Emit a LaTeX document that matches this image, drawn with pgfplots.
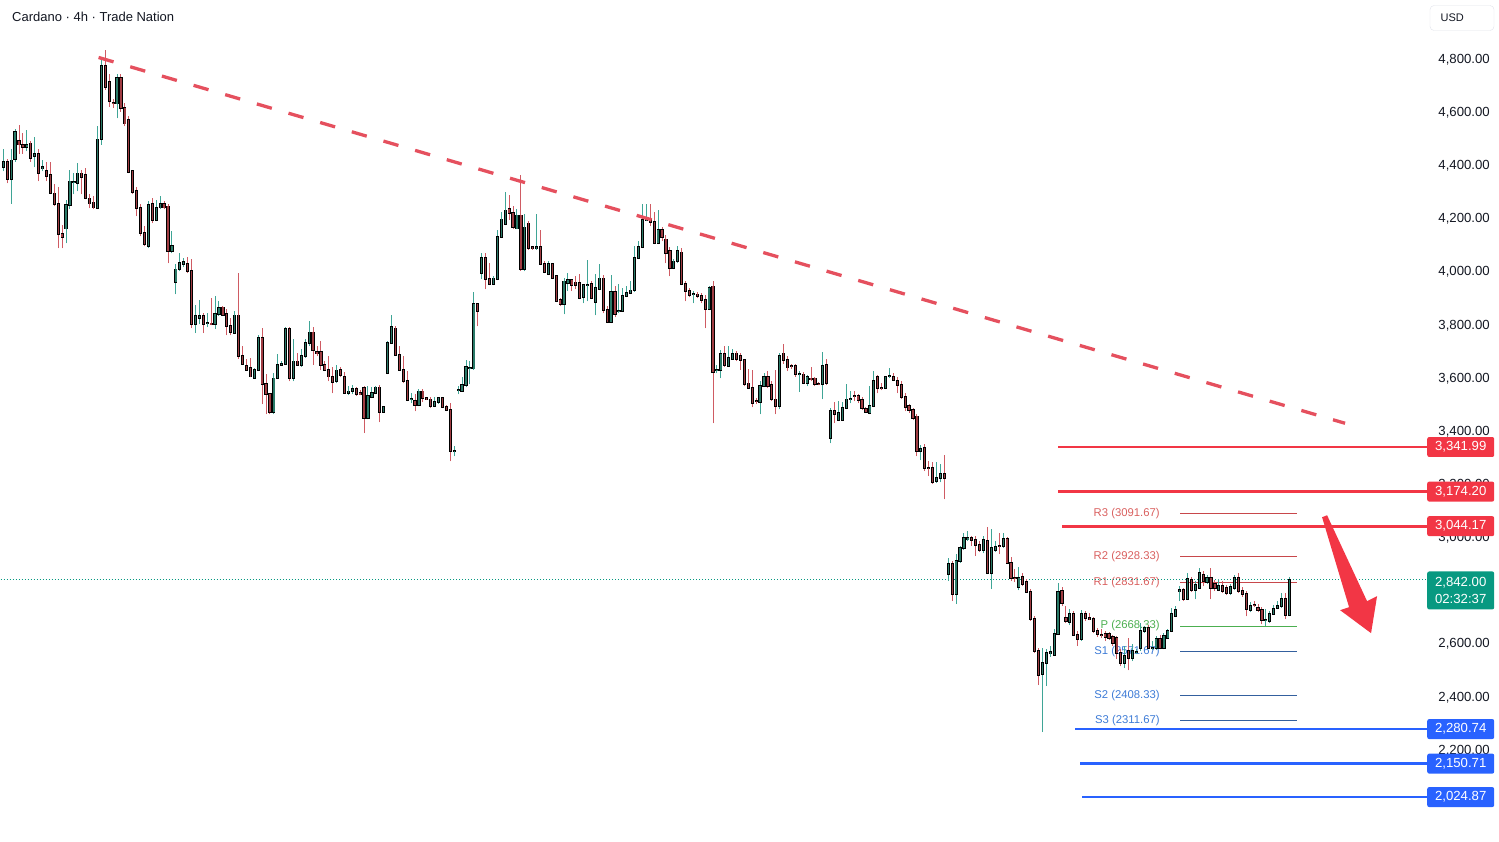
\documentclass[border=0pt]{standalone}
\usepackage{fontspec}
\setmainfont{Liberation Sans}
\usepackage{pgfplots}
\usepackage{pgfplotstable}
\pgfplotsset{compat=1.18}
\definecolor{tvText}{HTML}{131722}
\definecolor{bullBody}{HTML}{2A7A68}
\definecolor{bearBody}{HTML}{A03C42}
\definecolor{bullWick}{HTML}{3FA596}
\definecolor{bearWick}{HTML}{CF5B63}
\definecolor{lvlRed}{HTML}{F23645}
\definecolor{lvlBlue}{HTML}{2962FF}
\definecolor{trend}{HTML}{E5505E}
\definecolor{pivR}{HTML}{D9605F}
\definecolor{pivRl}{HTML}{C8474B}
\definecolor{pivP}{HTML}{4CAF50}
\definecolor{pivS}{HTML}{3D7BD6}
\definecolor{pivSl}{HTML}{34609E}
\definecolor{lastPx}{HTML}{089981}
\definecolor{usdEdge}{HTML}{E0E3EB}

% 4h candles: index, open, high, low, close
\pgfplotstableread{
i o h l c
0 4394 4465 4379 4413
1 4413 4424 4334 4349
2 4349 4465 4258 4420
3 4424 4537 4416 4529
4 4492 4552 4446 4480
5 4480 4522 4446 4469
6 4469 4533 4454 4480
7 4484 4492 4416 4428
8 4435 4510 4394 4446
9 4443 4465 4341 4371
10 4390 4420 4379 4394
11 4379 4416 4341 4360
12 4364 4413 4292 4296
13 4296 4330 4247 4255
14 4255 4319 4089 4142
15 4142 4176 4089 4131
16 4164 4270 4108 4251
17 4251 4383 4236 4341
18 4337 4371 4292 4338
19 4334 4409 4304 4371
20 4371 4383 4292 4356
21 4364 4390 4274 4277
22 4277 4292 4240 4258
23 4262 4285 4236 4243
24 4240 4548 4236 4499
25 4499 4800 4480 4777
26 4777 4834 4687 4695
27 4717 4747 4623 4642
28 4638 4653 4619 4634
29 4634 4744 4578 4729
30 4729 4744 4604 4616
31 4619 4638 4548 4559
32 4571 4586 4371 4375
33 4379 4386 4292 4300
34 4304 4319 4210 4240
35 4240 4255 4134 4146
36 4149 4172 4097 4104
37 4097 4266 4089 4251
38 4258 4277 4183 4195
39 4195 4270 4191 4243
40 4243 4285 4236 4258
41 4258 4266 4236 4243
42 4247 4255 4033 4078
43 4078 4153 4070 4097
44 3961 4029 3916 4010
45 4010 4070 4003 4033
46 4029 4052 4018 4037
47 4029 4055 3995 4003
48 4003 4048 3788 3803
49 3803 3875 3770 3834
50 3826 3894 3803 3834
51 3834 3845 3770 3803
52 3807 3845 3792 3808
53 3807 3901 3800 3806
54 3803 3909 3785 3841
55 3841 3890 3834 3864
56 3867 3871 3834 3837
57 3841 3860 3762 3796
58 3796 3826 3762 3773
59 3770 3852 3766 3837
60 3837 3995 3674 3685
61 3685 3722 3651 3655
62 3648 3674 3633 3633
63 3640 3677 3604 3607
64 3600 3640 3597 3633
65 3633 3762 3629 3751
66 3751 3788 3503 3578
67 3578 3615 3465 3540
68 3540 3544 3465 3473
69 3473 3619 3465 3600
70 3600 3691 3597 3651
71 3651 3664 3648 3655
72 3655 3792 3651 3785
73 3785 3792 3589 3600
74 3600 3747 3589 3664
75 3664 3694 3648 3651
76 3651 3709 3644 3685
77 3685 3747 3677 3732
78 3732 3815 3721 3773
79 3773 3792 3651 3706
80 3698 3721 3683 3694
81 3698 3740 3630 3651
82 3651 3664 3627 3633
83 3633 3683 3589 3607
84 3607 3644 3544 3585
85 3589 3651 3581 3630
86 3633 3644 3604 3611
87 3607 3623 3544 3544
88 3544 3570 3536 3551
89 3551 3574 3540 3559
90 3559 3566 3533 3540
91 3544 3555 3536 3540
92 3563 3570 3394 3450
93 3450 3570 3446 3533
94 3529 3566 3525 3544
95 3544 3570 3540 3566
96 3566 3574 3435 3473
97 3473 3495 3469 3491
98 3619 3740 3615 3732
99 3732 3837 3729 3792
100 3788 3796 3685 3689
101 3689 3721 3630 3633
102 3633 3683 3581 3589
103 3589 3627 3514 3518
104 3521 3544 3506 3522
105 3514 3540 3476 3499
106 3499 3559 3495 3551
107 3551 3559 3510 3525
108 3525 3529 3518 3521
109 3521 3529 3487 3495
110 3495 3529 3491 3510
111 3510 3529 3503 3525
112 3525 3529 3487 3491
113 3491 3499 3476 3480
114 3480 3506 3288 3326
115 3326 3344 3307 3327
116 3555 3570 3540 3556
117 3551 3604 3548 3574
118 3574 3668 3566 3644
119 3637 3664 3578 3641
120 3637 3927 3633 3879
121 3879 3882 3796 3852
122 3995 4070 3973 4052
123 4052 4070 3935 3973
124 3973 4033 3950 3954
125 3954 3984 3950 3976
126 3973 4157 3969 4131
127 4131 4228 4127 4198
128 4180 4300 4176 4232
129 4236 4289 4195 4221
130 4221 4247 4161 4168
131 4164 4236 4161 4213
132 4213 4364 4006 4010
133 4010 4217 4003 4168
134 4183 4191 4085 4089
135 4093 4100 4085 4092
136 4092 4217 4085 4093
137 4093 4157 4025 4029
138 4029 4040 3995 3999
139 3991 4040 3988 4029
140 4029 4033 3973 3976
141 3984 3988 3886 3890
142 3894 3901 3871 3879
143 3879 3976 3841 3965
144 3958 3995 3928 3969
145 3969 3973 3928 3950
146 3961 3984 3935 3950
147 3958 3991 3897 3901
148 3905 3954 3882 3950
149 3950 4044 3890 3951
150 3954 3965 3897 3901
151 3886 3991 3837 3939
152 3935 4029 3931 3976
153 3976 3988 3845 3856
154 3856 3871 3807 3811
155 3811 3988 3807 3924
156 3924 3946 3830 3841
157 3852 3954 3845 3853
158 3852 3939 3849 3909
159 3909 3946 3905 3920
160 3920 3965 3916 3931
161 3931 4097 3927 4052
162 4052 4116 4048 4093
163 4093 4255 4089 4195
164 4195 4255 4191 4198
165 4202 4258 4172 4187
166 4187 4228 4104 4108
167 4108 4232 4104 4157
168 4157 4168 4116 4131
169 4123 4138 4033 4070
170 4078 4093 3984 4014
171 4014 4048 4010 4040
172 4040 4097 4033 4078
173 4074 4089 3950 3954
174 3954 3965 3890 3928
175 3928 3939 3905 3912
176 3916 3928 3882 3917
177 3916 3924 3901 3909
178 3909 3920 3882 3894
179 3894 3912 3788 3860
180 3860 3946 3856 3939
181 3946 3965 3431 3623
182 3630 3649 3619 3633
183 3630 3706 3600 3691
184 3691 3721 3644 3651
185 3648 3721 3644 3677
186 3674 3709 3670 3691
187 3694 3702 3664 3674
188 3683 3694 3633 3668
189 3668 3674 3570 3578
190 3581 3637 3559 3563
191 3563 3633 3491 3506
192 3514 3525 3503 3513
193 3510 3589 3465 3570
194 3570 3619 3566 3607
195 3604 3627 3563 3570
196 3574 3589 3514 3521
197 3521 3630 3465 3495
198 3495 3694 3484 3683
199 3694 3728 3655 3668
200 3668 3683 3627 3641
201 3648 3655 3637 3647
202 3648 3655 3607 3615
203 3615 3627 3548 3616
204 3615 3623 3578 3581
205 3581 3611 3570 3604
206 3600 3644 3589 3596
207 3600 3607 3570 3578
208 3578 3585 3574 3577
209 3578 3698 3521 3648
210 3651 3674 3574 3581
211 3375 3488 3356 3476
212 3476 3510 3431 3465
213 3442 3514 3439 3469
214 3442 3510 3439 3488
215 3488 3578 3484 3521
216 3521 3551 3506 3522
217 3533 3551 3514 3532
218 3533 3540 3506 3518
219 3518 3529 3480 3488
220 3484 3491 3469 3473
221 3469 3570 3465 3495
222 3495 3627 3491 3589
223 3604 3611 3544 3563
224 3563 3581 3555 3562
225 3563 3607 3559 3604
226 3607 3641 3600 3608
227 3607 3619 3589 3593
228 3589 3604 3544 3574
229 3574 3589 3521 3529
230 3529 3544 3476 3491
231 3495 3503 3469 3480
232 3480 3488 3442 3450
233 3457 3465 3307 3326
234 3326 3348 3292 3333
235 3340 3352 3251 3262
236 3262 3288 3232 3261
237 3262 3284 3202 3209
238 3213 3284 3206 3224
239 3224 3277 3209 3239
240 3239 3311 3145 3224
241 2863 2924 2837 2901
242 2901 2912 2762 2788
243 2788 2939 2751 2912
244 2912 2969 2905 2961
245 2961 3018 2954 2999
246 2995 3025 2988 2999
247 2999 3006 2969 2991
248 2991 3006 2931 2972
249 2972 2988 2946 2954
250 2954 3006 2942 2991
251 2988 3040 2863 2867
252 2867 3033 2807 2961
253 2954 2988 2946 2965
254 2969 3018 2939 2968
255 2969 3018 2961 2995
256 2995 3003 2901 2905
257 2905 2928 2837 2848
258 2848 2882 2833 2847
259 2814 2890 2803 2848
260 2852 2867 2818 2826
261 2833 2844 2792 2796
262 2796 2807 2687 2694
263 2694 2705 2566 2574
264 2574 2585 2446 2484
265 2487 2585 2269 2529
266 2529 2581 2442 2566
267 2566 2593 2551 2570
268 2559 2656 2555 2638
269 2638 2830 2634 2796
270 2800 2815 2743 2754
271 2698 2743 2679 2687
272 2683 2732 2672 2713
273 2713 2724 2630 2634
274 2634 2649 2593 2619
275 2619 2728 2612 2713
276 2713 2724 2687 2698
277 2698 2717 2690 2694
278 2694 2702 2642 2649
279 2649 2660 2627 2638
280 2634 2657 2623 2633
281 2638 2649 2612 2627
282 2638 2645 2615 2623
283 2627 2634 2593 2604
284 2623 2630 2544 2566
285 2566 2581 2517 2529
286 2529 2593 2510 2555
287 2574 2623 2502 2547
288 2547 2600 2536 2574
289 2570 2581 2562 2571
290 2585 2679 2574 2649
291 2649 2668 2642 2660
292 2660 2672 2581 2585
293 2585 2611 2578 2586
294 2585 2630 2578 2619
295 2619 2634 2581 2585
296 2585 2642 2581 2630
297 2623 2657 2619 2649
298 2649 2735 2645 2713
299 2705 2743 2702 2728
300 2800 2818 2762 2803
301 2803 2811 2762 2769
302 2769 2867 2765 2844
303 2841 2852 2796 2803
304 2803 2837 2769 2822
305 2811 2886 2807 2867
306 2859 2875 2818 2837
307 2833 2859 2826 2848
308 2848 2886 2769 2811
309 2826 2841 2800 2811
310 2803 2844 2800 2818
311 2818 2837 2792 2800
312 2811 2822 2784 2792
313 2792 2826 2784 2814
314 2811 2859 2803 2848
315 2848 2867 2792 2800
316 2800 2815 2777 2788
317 2788 2800 2705 2732
318 2728 2758 2720 2743
319 2747 2762 2739 2746
320 2735 2750 2720 2728
321 2728 2739 2675 2690
322 2690 2732 2668 2691
323 2687 2724 2679 2713
324 2713 2747 2709 2732
325 2735 2762 2731 2743
326 2743 2792 2735 2769
327 2769 2792 2694 2709
328 2709 2852 2705 2842
}\ohlc

\newcommand\boxfont{\fontsize{13.2}{17}\selectfont}
\pgfplotsset{
  up only/.style={restrict expr to domain={\thisrow{c}-\thisrow{o}}{0:100000}},
  down only/.style={restrict expr to domain={\thisrow{c}-\thisrow{o}}{-100000:-0.5}},
  bar err/.style 2 args={draw=none,mark=none,
    error bars/y explicit,error bars/error mark=none,
    error bars/error bar style={draw=#1,line width=#2}},
  wick/.style={bar err={#1}{1pt},error bars/y dir=plus},
  body/.style 2 args={bar err={#1}{#2},error bars/y dir=both},
}
\tikzset{
  pricebox/.style={fill=#1,text=white,anchor=west,minimum width=67pt,
    minimum height=20pt,inner sep=0pt,rounded corners=2pt,font=\boxfont},
  pivlabel/.style={anchor=east,text=#1,font=\fontsize{11.3}{12}\selectfont},
}

\begin{document}
\begin{tikzpicture}
\begin{axis}[scale only axis,width=1499pt,height=842pt,
  xmin=0,xmax=1499,ymin=1857.2,ymax=5023.8,
  clip=false,set layers,
  axis line style={draw=none},tick style={draw=none},major tick length=0pt,
  xtick=\empty,ytick={2200,2400,...,4800},yticklabel pos=right,
  yticklabel style={anchor=east,inner sep=0pt,xshift=-9pt,
    font=\boxfont,text=tvText,
    /pgf/number format/.cd,fixed,fixed zerofill,precision=2,
    1000 sep={,},assume math mode=true}]

% pivot labels sit under the candles
\begin{pgfonlayer}{pre main}
\node[pivlabel=pivR] at (axis cs:1163,3091.67) {R3 (3091.67)};
\node[pivlabel=pivR] at (axis cs:1163,2928.33) {R2 (2928.33)};
\node[pivlabel=pivR] at (axis cs:1163,2831.67) {R1 (2831.67)};
\node[pivlabel=pivP] at (axis cs:1163,2668.33) {P (2668.33)};
\node[pivlabel=pivS] at (axis cs:1163,2571.67) {S1 (2571.67)};
\node[pivlabel=pivS] at (axis cs:1163,2408.33) {S2 (2408.33)};
\node[pivlabel=pivS] at (axis cs:1163,2311.67) {S3 (2311.67)};
\end{pgfonlayer}

% last price line
\addplot[lastPx,line width=0.9pt,dash pattern=on 1pt off 2pt] coordinates {(0,2842) (1427,2842)};

% pivot lines
\addplot[pivRl,line width=1pt] coordinates {(1180,3091.67) (1297,3091.67)};
\addplot[pivRl,line width=1pt] coordinates {(1180,2928.33) (1297,2928.33)};
\addplot[pivRl,line width=1pt] coordinates {(1180,2831.67) (1297,2831.67)};
\addplot[pivP,line width=1pt] coordinates {(1180,2668.33) (1297,2668.33)};
\addplot[pivSl,line width=1pt] coordinates {(1180,2571.67) (1297,2571.67)};
\addplot[pivSl,line width=1pt] coordinates {(1180,2408.33) (1297,2408.33)};
\addplot[pivSl,line width=1pt] coordinates {(1180,2311.67) (1297,2311.67)};

% candles
\addplot[up only,wick=bullWick] table[x expr=2.7+3.9226*\thisrow{i},y=l,
  y error expr=\thisrow{h}-\thisrow{l}] {\ohlc};
\addplot[down only,wick=bearWick] table[x expr=2.7+3.9226*\thisrow{i},y=l,
  y error expr=\thisrow{h}-\thisrow{l}] {\ohlc};
\addplot[body={black}{3.2pt}] table[x expr=2.7+3.9226*\thisrow{i},
  y expr=(\thisrow{o}+\thisrow{c})/2,
  y error expr=abs(\thisrow{c}-\thisrow{o})/2+3.4] {\ohlc};
\addplot[up only,body={bullBody}{1.3pt}] table[x expr=2.7+3.9226*\thisrow{i},
  y expr=(\thisrow{o}+\thisrow{c})/2,
  y error expr=abs(\thisrow{c}-\thisrow{o})/2] {\ohlc};
\addplot[down only,body={bearBody}{1.3pt}] table[x expr=2.7+3.9226*\thisrow{i},
  y expr=(\thisrow{o}+\thisrow{c})/2,
  y error expr=abs(\thisrow{c}-\thisrow{o})/2] {\ohlc};

% falling trend line
\addplot[trend,line width=3.3pt,dash pattern=on 15.6pt off 17.4pt]
  coordinates {(98,4807.5) (1345,3431.2)};

% key levels
\addplot[lvlRed,line width=2.8pt] coordinates {(1058,3341.99) (1427,3341.99)};
\addplot[lvlRed,line width=2.8pt] coordinates {(1058,3174.20) (1427,3174.20)};
\addplot[lvlRed,line width=2.8pt] coordinates {(1062,3044.17) (1427,3044.17)};
\addplot[lvlBlue,line width=2.8pt] coordinates {(1075,2280.74) (1427,2280.74)};
\addplot[lvlBlue,line width=2.8pt] coordinates {(1080,2150.71) (1427,2150.71)};
\addplot[lvlBlue,line width=2.8pt] coordinates {(1082,2024.87) (1427,2024.87)};

% arrow
\fill[lvlRed] (axis cs:1322,3077.7) -- (axis cs:1327,3085.2) -- (axis cs:1367,2761.9)
  -- (axis cs:1377,2780.7) -- (axis cs:1371,2641.6) -- (axis cs:1340,2728.1)
  -- (axis cs:1349,2739.4) -- cycle;

% price scale boxes
\node[pricebox=lvlRed] at (axis cs:1427,3341.99) {3,341.99};
\node[pricebox=lvlRed] at (axis cs:1427,3174.20) {3,174.20};
\node[pricebox=lvlRed] at (axis cs:1427,3044.17) {3,044.17};
\node[pricebox=lvlBlue] at (axis cs:1427,2280.74) {2,280.74};
\node[pricebox=lvlBlue] at (axis cs:1427,2150.71) {2,150.71};
\node[pricebox=lvlBlue] at (axis cs:1427,2024.87) {2,024.87};
\node[fill=lastPx,text=white,anchor=north west,minimum width=67pt,minimum height=38pt,
  inner sep=0pt,rounded corners=2pt,align=center,font=\boxfont]
  at (axis cs:1427,2874.5) {2,842.00\\02:32:37};

% header
\node[anchor=west,text=tvText,font=\fontsize{13}{14}\selectfont] at (axis cs:8,4962)
  {Cardano · 4h · Trade Nation};
\draw[usdEdge,fill=white,rounded corners=4pt] (axis cs:1430,5003) rectangle (axis cs:1494,4909);
\node[anchor=west,text=tvText,font=\fontsize{11}{12}\selectfont] at (axis cs:1437,4956) {USD};
\end{axis}
\end{tikzpicture}
\end{document}
